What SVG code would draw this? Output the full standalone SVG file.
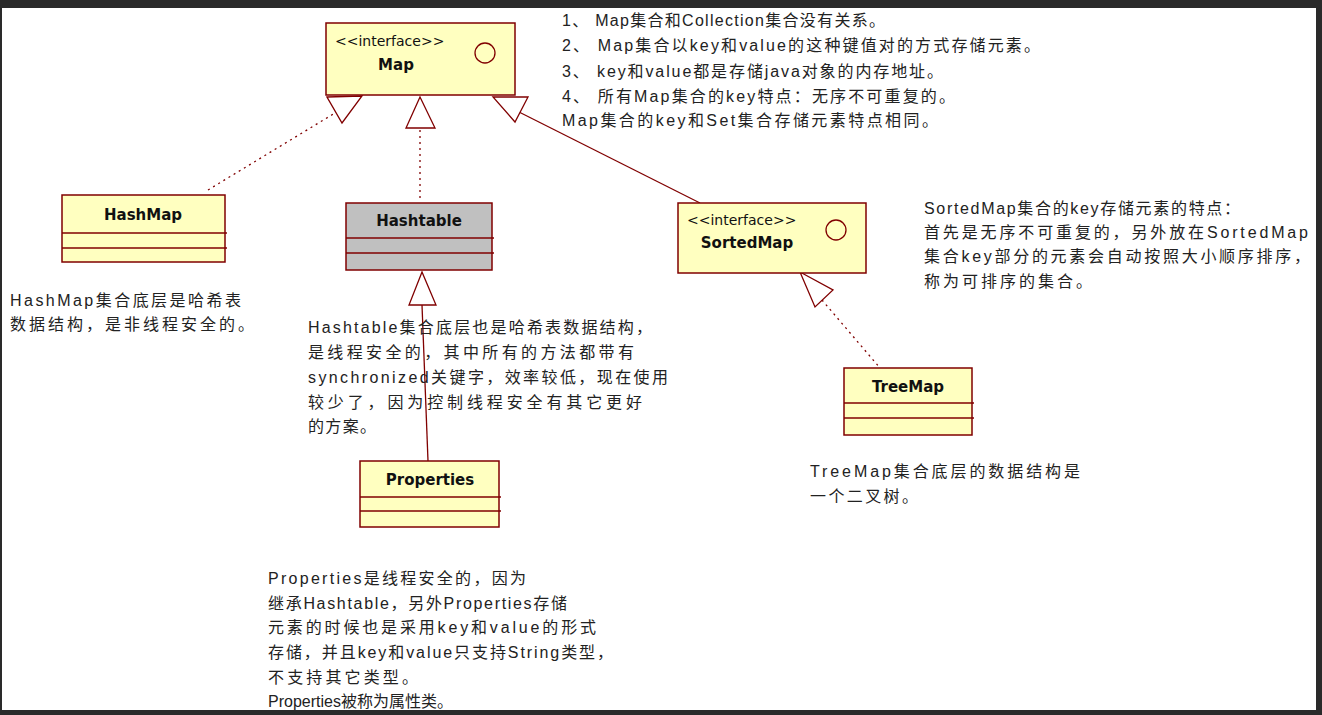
<svg xmlns="http://www.w3.org/2000/svg" width="1322" height="715" viewBox="0 0 1322 715">
<style>
.box{fill:#ffffc0;stroke:#800000;stroke-width:1.5}
.gray{fill:#c0c0c0;stroke:#800000;stroke-width:1.5}
.sep{stroke:#800000;stroke-width:1.5}
.b{font-family:"DejaVu Sans","Liberation Sans",sans-serif;font-size:15px;font-weight:bold;fill:#111;text-anchor:middle}
.s{font-family:"DejaVu Sans","Liberation Sans",sans-serif;font-size:14px;fill:#111}
.n{font-family:"Liberation Sans","Noto Sans CJK SC",sans-serif;font-size:16px;fill:#222}
.tri{fill:#fff;stroke:#800000;stroke-width:1.3}
.dot{stroke:#800000;stroke-width:1.3;stroke-dasharray:2,4;fill:none}
.sol{stroke:#800000;stroke-width:1.3;fill:none}
</style>
<rect x="0" y="0" width="1322" height="715" fill="#fff"/>
<rect x="0" y="0" width="1322" height="8" fill="#2a2a2a"/>
<rect x="1316" y="0" width="6" height="715" fill="#2a2a2a"/>
<rect x="0" y="710" width="1322" height="5" fill="#2a2a2a"/>
<rect x="0" y="0" width="2" height="715" fill="#2a2a2a"/>
<g id="connectors">
<line class="dot" x1="208" y1="190" x2="335" y2="113"/>
<polygon class="tri" points="327,97 362,96 342,123"/>
<line class="dot" x1="420" y1="130" x2="420" y2="202"/>
<polygon class="tri" points="420,97 406,128 435,128"/>
<line class="sol" x1="519" y1="112" x2="700" y2="203"/>
<polygon class="tri" points="493,97 528,97 515,122"/>
<line class="sol" x1="422" y1="305" x2="428" y2="461"/>
<polygon class="tri" points="422,272 409,305 436,305"/>
<line class="dot" x1="822" y1="300" x2="880" y2="368"/>
<polygon class="tri" points="800,272 833,290 815,307"/>
</g>
<g id="Map">
<rect class="box" x="326" y="23" width="189" height="72"/>
<text class="s" x="335" y="46">&lt;&lt;interface&gt;&gt;</text>
<text class="b" x="396" y="70">Map</text>
<circle cx="485" cy="53" r="10" fill="none" stroke="#800000" stroke-width="1.3"/>
</g>
<g id="HashMap">
<rect class="box" x="62" y="195" width="163" height="67"/>
<line class="sep" x1="62" y1="233" x2="227" y2="233"/>
<line class="sep" x1="62" y1="248" x2="227" y2="248"/>
<text class="b" x="143" y="220">HashMap</text>
</g>
<g id="Hashtable">
<rect class="gray" x="346" y="203" width="146" height="67"/>
<line class="sep" x1="346" y1="238" x2="494" y2="238"/>
<line class="sep" x1="346" y1="253" x2="494" y2="253"/>
<text class="b" x="419" y="226">Hashtable</text>
</g>
<g id="SortedMap">
<rect class="box" x="678" y="203" width="188" height="70"/>
<text class="s" x="687" y="225">&lt;&lt;interface&gt;&gt;</text>
<text class="b" x="747" y="248">SortedMap</text>
<circle cx="836" cy="230" r="10" fill="none" stroke="#800000" stroke-width="1.3"/>
</g>
<g id="TreeMap">
<rect class="box" x="844" y="368" width="128" height="67"/>
<line class="sep" x1="844" y1="403" x2="974" y2="403"/>
<line class="sep" x1="844" y1="418" x2="974" y2="418"/>
<text class="b" x="908" y="392">TreeMap</text>
</g>
<g id="Properties">
<rect class="box" x="360" y="461" width="139" height="66"/>
<line class="sep" x1="360" y1="497" x2="501" y2="497"/>
<line class="sep" x1="360" y1="511" x2="501" y2="511"/>
<text class="b" x="430" y="485">Properties</text>
</g>
<g id="notes" lengthAdjust="spacing">
<text class="n" x="562" y="26" textLength="323">1、 Map集合和Collection集合没有关系。</text>
<text class="n" x="562" y="51" textLength="478">2、 Map集合以key和value的这种键值对的方式存储元素。</text>
<text class="n" x="562" y="77" textLength="381">3、 key和value都是存储java对象的内存地址。</text>
<text class="n" x="562" y="102" textLength="393">4、 所有Map集合的key特点：无序不可重复的。</text>
<text class="n" x="562" y="126" textLength="376">Map集合的key和Set集合存储元素特点相同。</text>
<text class="n" x="924" y="214" textLength="316">SortedMap集合的key存储元素的特点：</text>
<text class="n" x="924" y="238" textLength="384">首先是无序不可重复的，另外放在SortedMap</text>
<text class="n" x="924" y="262" textLength="386">集合key部分的元素会自动按照大小顺序排序，</text>
<text class="n" x="924" y="287" textLength="168">称为可排序的集合。</text>
<text class="n" x="10" y="306" textLength="231">HashMap集合底层是哈希表</text>
<text class="n" x="10" y="330" textLength="244">数据结构，是非线程安全的。</text>
<text class="n" x="308" y="333" textLength="344">Hashtable集合底层也是哈希表数据结构，</text>
<text class="n" x="308" y="358" textLength="326">是线程安全的，其中所有的方法都带有</text>
<text class="n" x="308" y="383" textLength="360">synchronized关键字，效率较低，现在使用</text>
<text class="n" x="308" y="408" textLength="334">较少了，因为控制线程安全有其它更好</text>
<text class="n" x="308" y="432" textLength="68">的方案。</text>
<text class="n" x="810" y="477" textLength="270">TreeMap集合底层的数据结构是</text>
<text class="n" x="810" y="502" textLength="108">一个二叉树。</text>
<text class="n" x="268" y="584" textLength="258">Properties是线程安全的，因为</text>
<text class="n" x="268" y="609" textLength="299">继承Hashtable，另外Properties存储</text>
<text class="n" x="268" y="633" textLength="328">元素的时候也是采用key和value的形式</text>
<text class="n" x="268" y="658" textLength="345">存储，并且key和value只支持String类型，</text>
<text class="n" x="268" y="683" textLength="150">不支持其它类型。</text>
<text class="n" x="268" y="707">Properties被称为属性类。</text>
</g>
</svg>
